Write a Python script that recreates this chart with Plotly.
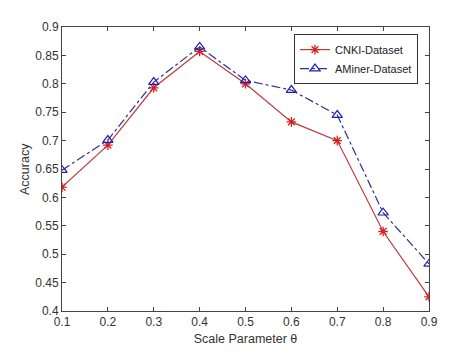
import plotly.graph_objects as go

theta = [0.1, 0.2, 0.3, 0.4, 0.5, 0.6, 0.7, 0.8, 0.9]
cnki = [0.618, 0.692, 0.793, 0.857, 0.800, 0.733, 0.700, 0.540, 0.425]
aminer = [0.648, 0.701, 0.803, 0.865, 0.806, 0.789, 0.745, 0.573, 0.483]

fig = go.Figure()
fig.add_trace(go.Scatter(
    x=theta, y=cnki, name="CNKI-Dataset", mode="lines+markers",
    line=dict(color="#c0393c", width=1.2),
    marker=dict(symbol="asterisk-open", size=8, color="#d62020", line=dict(color="#d62020", width=1.3)),
))
fig.add_trace(go.Scatter(
    x=theta, y=aminer, name="AMiner-Dataset", mode="lines+markers",
    line=dict(color="#2e2e9a", width=1.2, dash="dashdot"),
    marker=dict(symbol="triangle-up-open", size=9, color="#2020b0", line=dict(color="#2020b0", width=1.2)),
))

FONT = "Liberation Sans, Arial"
axis_common = dict(
    showline=True, linecolor="#444444", linewidth=1, mirror="ticks",
    ticks="inside", ticklen=4, tickcolor="#444444", showgrid=False, zeroline=False,
    tickfont=dict(family=FONT, size=12, color="#333333"),
)
fig.update_xaxes(range=[0.1, 0.9], tickvals=theta, ticktext=[f"{v:g}" for v in theta],
                 title=dict(text="Scale Parameter θ", font=dict(family=FONT, size=12.5, color="#333333"), standoff=5),
                 **axis_common)
yt = [0.4, 0.45, 0.5, 0.55, 0.6, 0.65, 0.7, 0.75, 0.8, 0.85, 0.9]
fig.update_yaxes(range=[0.4, 0.9], tickvals=yt, ticktext=[f"{v:g}" for v in yt],
                 **axis_common)
fig.add_annotation(text="Accuracy", textangle=-90, xref="paper", yref="paper",
                   x=0, y=0.5, xanchor="center", yanchor="middle", xshift=-37,
                   showarrow=False, font=dict(family=FONT, size=12.5, color="#333333"))
# page body has an 8px default margin, so the figure is 8px smaller and margins shifted
fig.update_layout(
    width=466, height=347,
    margin=dict(l=54, r=45, t=19, b=39),
    paper_bgcolor="white", plot_bgcolor="white",
    font=dict(family=FONT, color="#222222"),
    legend=dict(x=0.97, y=0.975, xanchor="right", yanchor="top",
                bordercolor="#333333", borderwidth=1, bgcolor="white",
                font=dict(size=11, color="#222222"), tracegroupgap=0,
                itemwidth=30),
    showlegend=True,
)
fig.write_html("out.html")
